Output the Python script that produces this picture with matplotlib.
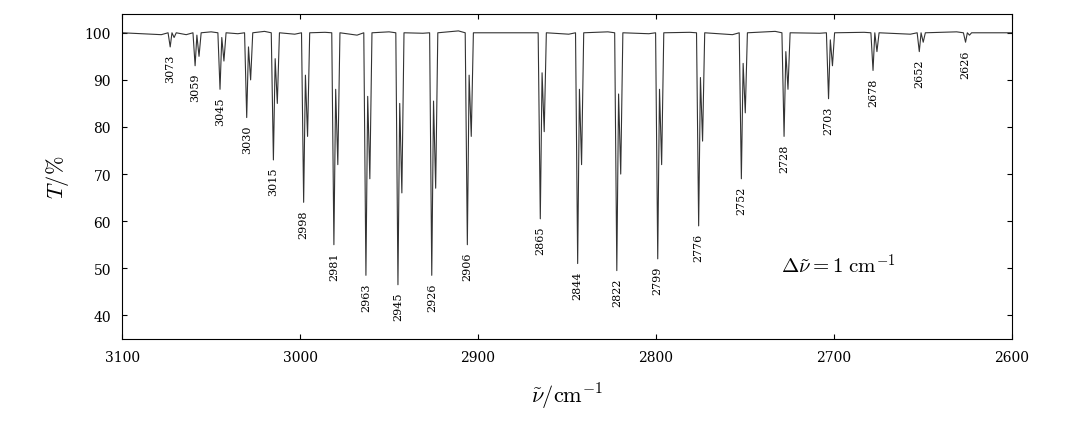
import matplotlib
matplotlib.use("Agg")
import matplotlib.pyplot as plt

plt.rcParams['mathtext.fontset'] = 'cm'
plt.rcParams['font.family'] = 'DejaVu Serif'

peaks = [3073, 3059, 3045, 3030, 3015, 2998, 2981, 2963, 2945, 2926, 2906,
         2865, 2844, 2822, 2799, 2776, 2752, 2728, 2703, 2678, 2652, 2626]
main_min = [97, 93, 88, 82, 73, 64, 55, 48.5, 46.5, 48.5, 55,
            60.5, 51, 49.5, 52, 59, 69, 78, 86, 92, 96, 98]
sec_min = [99, 95, 94, 90, 85, 78, 72, 69, 66, 67, 78,
           79, 72, 70, 72, 77, 83, 88, 93, 96, 98, 99.5]
baseline = [99.6, 99.6, 100.2, 99.8, 100.3, 99.7, 100.1, 99.5, 100.2, 99.9, 100.4,
            100.0, 99.7, 100.2, 99.8, 100.1, 99.6, 100.3, 99.9, 100.1, 99.7, 100.2]

xs, ys = [3100], [100]
for p, m, s, b in zip(peaks, main_min, sec_min, baseline):
    xs += [p + 5, p + 1.2, p, p - 1.0, p - 2.2, p - 3.4]
    ys += [b, 100, m, min(100, (100 + s) / 2 + 2), s, 100]
xs.append(2600); ys.append(100)

fig = plt.figure(figsize=(10.81, 4.27), dpi=100)
ax = fig.add_axes([0.113, 0.204, 0.823, 0.761])
ax.plot(xs, ys, color='#333333', lw=0.8)
for p, m in zip(peaks, main_min):
    ax.text(p, m - 1.5, str(p), rotation=90, ha='center', va='top', fontsize=8)
ax.set_xlim(3100, 2600)
ax.set_ylim(35, 104)
ax.set_yticks([40, 50, 60, 70, 80, 90, 100])
ax.set_xticks([3100, 3000, 2900, 2800, 2700, 2600])
ax.tick_params(direction='in', top=True, right=True, labelsize=10, pad=8)
ax.set_xlabel(r'$\tilde{\nu}/\mathrm{cm}^{-1}$', fontsize=16, labelpad=12)
ax.set_ylabel(r'$T/\%$', fontsize=16, labelpad=10)
ax.text(2730, 49, r'$\Delta\tilde{\nu} = 1\ \mathrm{cm}^{-1}$', fontsize=15)
fig.savefig('out.png', dpi=100)
